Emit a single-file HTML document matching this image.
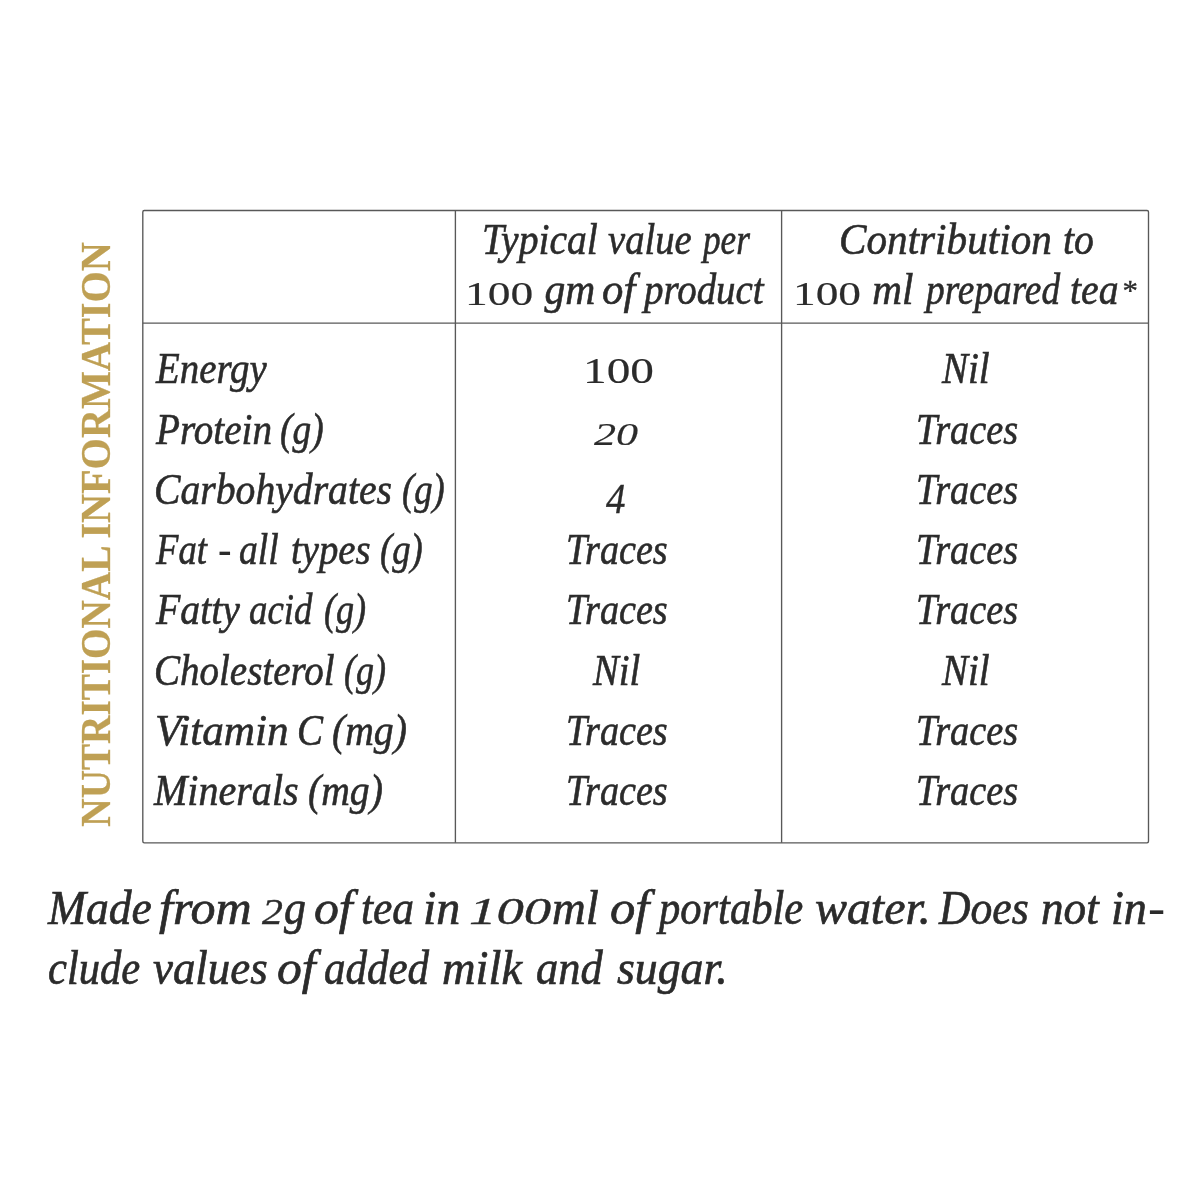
<!DOCTYPE html>
<html lang="en">
<head>
<meta charset="utf-8">
<title>Nutritional Information</title>
<style>
html,body{margin:0;padding:0;background:#fff;}
body{width:1200px;height:1200px;position:relative;overflow:hidden;font-family:"Liberation Serif","DejaVu Serif",serif;}
.t{position:absolute;white-space:pre;line-height:1;font-style:italic;font-weight:400;color:#2b2b2b;transform-origin:0 0;-webkit-text-stroke:0.6px #2b2b2b;}
.v{color:#bfa054;font-style:normal;-webkit-text-stroke:0.3px #bfa054;}
.d{-webkit-text-stroke:0.15px #2b2b2b;}
.f{-webkit-text-stroke:0.7px #2b2b2b;}
.d4{-webkit-text-stroke:0.35px #2b2b2b;}
.hy{-webkit-text-stroke:0;}
svg.grid{position:absolute;left:0;top:0;}
</style>
</head>
<body>
<svg class="grid" width="1200" height="1200" viewBox="0 0 1200 1200" fill="none" stroke="#585858" stroke-width="1.35">
<rect x="142.8" y="210.5" width="1005.7" height="632.3" rx="1.5"/>
<line x1="142.8" y1="323.1" x2="1148.5" y2="323.1"/>
<line x1="455.4" y1="210.5" x2="455.4" y2="842.8"/>
<line x1="781.6" y1="210.5" x2="781.6" y2="842.8"/>
</svg>
<span class="t v" style="left:111.00px;top:791.32px;font-size:42.6px;font-weight:700;transform-origin:0 35.68px;transform:rotate(-90deg) scaleX(0.9204) translateX(0.00px)">NUTRITIONAL </span>
<span class="t v" style="left:111.00px;top:501.62px;font-size:42.6px;font-weight:700;transform-origin:0 35.68px;transform:rotate(-90deg) scaleX(0.9439) translateX(-1.00px)">INFORMATION</span>

<span class="t" style="left:482.40px;top:217.65px;font-size:44px;transform:scaleX(0.8997)">Typical </span>
<span class="t" style="left:607.50px;top:217.65px;font-size:44px;transform:scaleX(0.8791)">value </span>
<span class="t" style="left:703.20px;top:217.65px;font-size:44px;transform:scaleX(0.7996)">per</span>
<span class="t d" style="left:465.05px;top:277.56px;font-size:33px;transform:scaleX(1.3766);font-style:normal">100</span>
<span class="t" style="left:533.81px;top:268.35px;font-size:44px;transform:scaleX(0.9442)"> gm </span>
<span class="t" style="left:601.53px;top:268.35px;font-size:44px;transform:scaleX(0.9718)">of </span>
<span class="t" style="left:644.35px;top:268.35px;font-size:44px;transform:scaleX(0.8849)">product</span>
<span class="t" style="left:838.93px;top:217.65px;font-size:44px;transform:scaleX(0.9360)">Contribution </span>
<span class="t" style="left:1063.30px;top:217.65px;font-size:44px;transform:scaleX(0.9030)">to</span>
<span class="t d" style="left:793.45px;top:277.56px;font-size:33px;transform:scaleX(1.3745);font-style:normal">100</span>
<span class="t" style="left:862.08px;top:268.35px;font-size:44px;transform:scaleX(0.9351)"> ml </span>
<span class="t" style="left:925.85px;top:268.35px;font-size:44px;transform:scaleX(0.8486)">prepared </span>
<span class="t" style="left:1069.90px;top:268.35px;font-size:44px;transform:scaleX(0.9023)">tea</span>
<span class="t d4" style="left:1121.24px;top:274.68px;font-size:30px;transform:scaleX(1.0308)">*</span>
<span class="t" style="left:155.78px;top:347.15px;font-size:44px;transform:scaleX(0.8826)">Energy</span>
<span class="t" style="left:155.59px;top:407.65px;font-size:44px;transform:scaleX(0.8899)">Protein </span>
<span class="t" style="left:280.45px;top:407.65px;font-size:44px;transform:scaleX(0.8499)">(g)</span>
<span class="t" style="left:153.70px;top:467.95px;font-size:44px;transform:scaleX(0.9016)">Carbohydrates </span>
<span class="t" style="left:401.87px;top:467.95px;font-size:44px;transform:scaleX(0.8318)">(g)</span>
<span class="t" style="left:155.83px;top:528.15px;font-size:44px;transform:scaleX(0.8329)">Fat </span>
<span class="t hy" style="left:217.58px;top:528.15px;font-size:44px;transform:scaleX(0.9231)">- </span>
<span class="t" style="left:239.44px;top:528.15px;font-size:44px;transform:scaleX(0.8557)">all </span>
<span class="t" style="left:290.72px;top:528.15px;font-size:44px;transform:scaleX(0.8801)">types </span>
<span class="t" style="left:380.47px;top:528.15px;font-size:44px;transform:scaleX(0.8338)">(g)</span>
<span class="t" style="left:155.60px;top:588.45px;font-size:44px;transform:scaleX(0.9043)">Fatty </span>
<span class="t" style="left:249.06px;top:588.45px;font-size:44px;transform:scaleX(0.8369)">acid </span>
<span class="t" style="left:324.48px;top:588.45px;font-size:44px;transform:scaleX(0.8217)">(g)</span>
<span class="t" style="left:153.73px;top:648.65px;font-size:44px;transform:scaleX(0.8865)">Cholesterol </span>
<span class="t" style="left:344.48px;top:648.65px;font-size:44px;transform:scaleX(0.8177)">(g)</span>
<span class="t" style="left:155.34px;top:708.95px;font-size:44px;transform:scaleX(0.9823)">Vitamin </span>
<span class="t" style="left:297.43px;top:708.95px;font-size:44px;transform:scaleX(0.8857)">C </span>
<span class="t" style="left:332.40px;top:708.95px;font-size:44px;transform:scaleX(0.9014)">(mg)</span>
<span class="t" style="left:153.71px;top:769.35px;font-size:44px;transform:scaleX(0.9102)">Minerals </span>
<span class="t" style="left:308.40px;top:769.35px;font-size:44px;transform:scaleX(0.9014)">(mg)</span>
<span class="t d" style="left:583.00px;top:354.27px;font-size:35.5px;transform:scaleX(1.3333);font-style:normal">100</span>
<span class="t d" style="left:593.60px;top:418.54px;font-size:31px;transform:scaleX(1.4222)">20</span>
<span class="t d4" style="left:606.00px;top:477.29px;font-size:43px;transform:scaleX(0.9048)">4</span>
<span class="t" style="left:566.27px;top:528.15px;font-size:44px;transform:scaleX(0.8667)">Traces</span>
<span class="t" style="left:566.27px;top:588.45px;font-size:44px;transform:scaleX(0.8667)">Traces</span>
<span class="t" style="left:566.27px;top:708.95px;font-size:44px;transform:scaleX(0.8667)">Traces</span>
<span class="t" style="left:566.27px;top:769.35px;font-size:44px;transform:scaleX(0.8667)">Traces</span>
<span class="t" style="left:593.48px;top:648.65px;font-size:44px;transform:scaleX(0.8796)">Nil</span>
<span class="t" style="left:942.49px;top:347.15px;font-size:44px;transform:scaleX(0.8869)">Nil</span>
<span class="t" style="left:942.49px;top:648.65px;font-size:44px;transform:scaleX(0.8869)">Nil</span>
<span class="t" style="left:915.86px;top:407.65px;font-size:44px;transform:scaleX(0.8702)">Traces</span>
<span class="t" style="left:915.86px;top:467.95px;font-size:44px;transform:scaleX(0.8702)">Traces</span>
<span class="t" style="left:915.86px;top:528.15px;font-size:44px;transform:scaleX(0.8702)">Traces</span>
<span class="t" style="left:915.86px;top:588.45px;font-size:44px;transform:scaleX(0.8702)">Traces</span>
<span class="t" style="left:915.86px;top:708.95px;font-size:44px;transform:scaleX(0.8702)">Traces</span>
<span class="t" style="left:915.86px;top:769.35px;font-size:44px;transform:scaleX(0.8702)">Traces</span>
<span class="t f" style="left:48.15px;top:884.10px;font-size:48px;transform:scaleX(0.9501)">Made </span>
<span class="t f" style="left:159.00px;top:884.10px;font-size:48px;transform:scaleX(1.0432)">from </span>
<span class="t d4" style="left:261.80px;top:894.57px;font-size:35.5px;transform:scaleX(1.1765)">2</span>
<span class="t f" style="left:284.00px;top:884.10px;font-size:48px;transform:scaleX(0.9130)">g </span>
<span class="t f" style="left:314.46px;top:884.10px;font-size:48px;transform:scaleX(1.0357)">of </span>
<span class="t f" style="left:361.19px;top:884.10px;font-size:48px;transform:scaleX(0.9040)">tea </span>
<span class="t f" style="left:423.00px;top:884.10px;font-size:48px;transform:scaleX(0.9990)">in </span>
<span class="t d4" style="left:469.44px;top:892.89px;font-size:37.5px;transform:scaleX(1.4613)">100</span>
<span class="t f" style="left:552.33px;top:884.10px;font-size:48px;transform:scaleX(0.9729)">ml </span>
<span class="t f" style="left:609.65px;top:884.10px;font-size:48px;transform:scaleX(1.0548)">of </span>
<span class="t f" style="left:659.36px;top:884.10px;font-size:48px;transform:scaleX(0.8866)">portable </span>
<span class="t f" style="left:815.00px;top:884.10px;font-size:48px;transform:scaleX(0.9972)">water. </span>
<span class="t f" style="left:939.21px;top:884.10px;font-size:48px;transform:scaleX(0.9094)">Does </span>
<span class="t f" style="left:1040.76px;top:884.10px;font-size:48px;transform:scaleX(0.9403)">not </span>
<span class="t f" style="left:1110.58px;top:884.10px;font-size:48px;transform:scaleX(0.9611)">in</span>
<span class="t hy" style="left:1147.73px;top:884.10px;font-size:48px;transform:scaleX(1.0714)">-</span>
<span class="t f" style="left:48.11px;top:943.50px;font-size:48px;transform:scaleX(0.8866)">clude </span>
<span class="t f" style="left:152.70px;top:943.50px;font-size:48px;transform:scaleX(0.9348)">values </span>
<span class="t f" style="left:277.27px;top:943.50px;font-size:48px;transform:scaleX(1.0333)">of </span>
<span class="t f" style="left:324.10px;top:943.50px;font-size:48px;transform:scaleX(0.8951)">added </span>
<span class="t f" style="left:442.33px;top:943.50px;font-size:48px;transform:scaleX(0.9684)">milk </span>
<span class="t f" style="left:535.78px;top:943.50px;font-size:48px;transform:scaleX(0.9250)">and </span>
<span class="t f" style="left:616.70px;top:943.50px;font-size:48px;transform:scaleX(0.9532)">sugar.</span>
</body>
</html>
